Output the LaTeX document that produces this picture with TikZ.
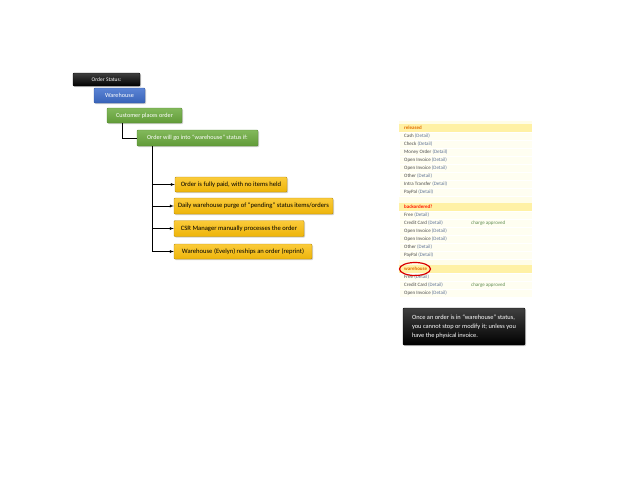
\documentclass[tikz,border=0pt]{standalone}
\usepackage{fontspec}
\setmainfont{Carlito}
\usetikzlibrary{shapes.geometric}
\usetikzlibrary{shadows}
\usetikzlibrary{calc}

\definecolor{wblue}{RGB}{62,110,205}
\definecolor{wgreen}{RGB}{108,172,62}
\definecolor{wgold}{RGB}{250,190,10}
\definecolor{tabcream}{RGB}{255,253,232}
\definecolor{tabhead}{RGB}{255,241,165}
\definecolor{headtxt}{RGB}{228,110,0}
\definecolor{linktxt}{RGB}{95,115,150}
\definecolor{oktxt}{RGB}{95,140,80}

\tikzset{
  basebox/.style={rounded corners=1pt, inner sep=1pt, text=white,
    font=\fontsize{6.2}{7}\selectfont,
    drop shadow={shadow xshift=1pt, shadow yshift=-1.2pt, opacity=0.35}},
  blackbox/.style={basebox, top color=black!75, bottom color=black, draw=black},
  bluebox/.style={basebox, top color=wblue!85!white, bottom color=wblue!90!black, draw=wblue!80!black},
  greenbox/.style={basebox, top color=wgreen!85!white, bottom color=wgreen!90!black, draw=wgreen!80!black},
  goldbox/.style={basebox, text=black, top color=wgold!80!white, bottom color=wgold!95!black,
    draw=wgold!75!black, font=\fontsize{6.6}{7}\selectfont},
  rowtext/.style={anchor=west, inner sep=0pt, text=black!70, font=\fontsize{5}{5}\selectfont},
  headtext/.style={anchor=west, inner sep=0pt, text=headtxt, font=\bfseries\fontsize{5}{5}\selectfont},
}

\begin{document}
\begin{tikzpicture}[x=1pt, y=-1pt]
        \useasboundingbox[fill=white] (0,0) rectangle (638,493);

        % Status tree
        \node[blackbox, minimum width=67, minimum height=13, font=\fontsize{5.5}{6}\selectfont] (status) at (106.5,79.5) {Order Status:};
        \node[bluebox, minimum width=51, minimum height=15] (wh) at (119.5,95.5) {Warehouse};
        \node[greenbox, minimum width=75, minimum height=15] (cust) at (144.5,115.5) {Customer places order};
        \node[greenbox, minimum width=121, minimum height=16] (goes) at (197.5,138) {Order will go into ``warehouse'' status if:};

        \node[goldbox, minimum width=112, minimum height=15] (paid) at (231,184.5) {Order is fully paid, with no items held};
        \node[goldbox, minimum width=159, minimum height=16] (purge) at (253.5,206) {Daily warehouse purge of ``pending'' status items/orders};
        \node[goldbox, minimum width=130, minimum height=16] (csr) at (239,228.5) {CSR Manager manually processes the order};
        \node[goldbox, minimum width=138, minimum height=15] (reship) at (243,251.5) {Warehouse (Evelyn) reships an order (reprint)};

        \draw[thin] ([xshift=15]cust.south west) |- (goes.west);
        \coordinate (trunk) at ([xshift=15]goes.south west);
        \draw[thin] (trunk) -- (trunk |- reship.west);
        \foreach \leaf in {paid, purge, csr, reship}
            \draw[thin, -latex] (trunk |- \leaf.west) -- (\leaf.west);

        % Screenshot of the order table
        \fill[tabcream] (399,121) rectangle (532,297);
        \foreach \top in {124, 203, 265}
            \fill[tabhead] (399,\top) rectangle (532,\top+8);
        \foreach \yy in {136,144,...,192, 215,223,...,255, 277,285,293}
            \draw[white, line width=0.6pt, fill=tabcream!60!white] (399,\yy-4) rectangle (532,\yy+4);

        \node[headtext] (hrel) at (404,128) {released};
        \foreach \name [count=\i] in {Cash, Check, Money Order, Open Invoice, Open Invoice, Other, Intra Transfer, PayPal}
            \node[rowtext] (rel-\i) at (404,128+8*\i) {\name\ \textcolor{linktxt}{(Detail)}};

        \node[headtext, text=red!80!orange] (hback) at (404,207) {backordered?};
        \foreach \name [count=\i] in {Free, Credit Card, Open Invoice, Open Invoice, Other, PayPal}
            \node[rowtext] (back-\i) at (404,207+8*\i) {\name\ \textcolor{linktxt}{(Detail)}};
        \node[rowtext, text=oktxt] (okback) at (471,223) {charge approved};

        \node[headtext] (hwh) at (404,269) {warehouse};
        \foreach \name [count=\i] in {Free, Credit Card, Open Invoice}
            \node[rowtext] (whr-\i) at (404,269+8*\i) {\name\ \textcolor{linktxt}{(Detail)}};
        \node[rowtext, text=oktxt] (okwh) at (471,285) {charge approved};

        \node[draw=red!85!black, line width=1.2pt, ellipse, minimum width=31, minimum height=13, inner sep=0pt] (ring) at (415,269) {};

        % Note
        \node[blackbox, minimum width=122, minimum height=37, align=left,
              inner sep=5pt, font=\fontsize{6.4}{9}\selectfont] (note) at (464,326.5)
            {Once an order is in ``warehouse'' status,\\ you cannot stop or modify it; unless you\\ have the physical invoice.\hspace*{38pt}};

    \end{tikzpicture}
\end{document}
